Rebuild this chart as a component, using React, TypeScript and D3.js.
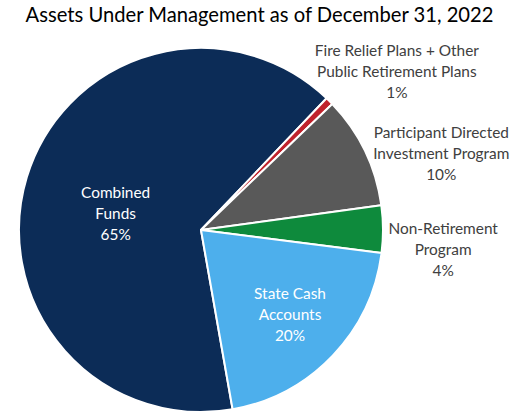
import * as d3 from "d3";

// Share of assets under management, in order round the pie (clockwise)
const categories = [
  "Combined Funds",
  "Fire Relief Plans + Other Public Retirement Plans",
  "Participant Directed Investment Program",
  "Non-Retirement Program",
  "State Cash Accounts",
];
const values = [64.9, 0.7, 10.0, 4.2, 20.2];
const percentLabels = ["65%", "1%", "10%", "4%", "20%"];
const labelLines = [
  ["Combined", "Funds"],
  ["Fire Relief Plans + Other", "Public Retirement Plans"],
  ["Participant Directed", "Investment Program"],
  ["Non-Retirement", "Program"],
  ["State Cash", "Accounts"],
];
const colors = ["#0c2c57", "#c0232c", "#595959", "#0e8a3c", "#4dafec"];
const insideLabel = [true, false, false, false, true];

const W = 520;
const H = 418;
const cx = 201;
const cy = 230;
const radius = 182;

// label placement: radius from the centre and a nudge to the slice's mid angle (degrees)
const labelRadius = [87, 252, 252, 243, 123];
const labelAngleShift = [-5.75, 6.1, 8.3, 5, 0];

export default function App() {
  const pie = d3
    .pie<number>()
    .sort(null)
    .value((d) => d)
    .startAngle((170 * Math.PI) / 180)
    .endAngle((530 * Math.PI) / 180);
  const arcs = pie(values);
  const arc = d3.arc<d3.PieArcDatum<number>>().innerRadius(0).outerRadius(radius);

  const lineH = 21;

  return (
    <svg
      width={W}
      height={H}
      style={{ position: "absolute", left: 0, top: 0, background: "#fff" }}
      fontFamily="Lato, 'Open Sans', sans-serif"
    >
      <text x={259.5} y={22} textAnchor="middle" fontSize={20.2} fill="#000">
        Assets Under Management as of December 31, 2022
      </text>
      <g transform={`translate(${cx},${cy})`}>
        {arcs.map((a, i) => (
          <path
            key={categories[i]}
            d={arc(a) ?? ""}
            fill={colors[i]}
            stroke="#fff"
            strokeWidth={2}
            strokeLinejoin="round"
          />
        ))}
        {arcs.map((a, i) => {
          const mid = (a.startAngle + a.endAngle) / 2 + (labelAngleShift[i] * Math.PI) / 180;
          const x = Math.sin(mid) * labelRadius[i];
          const y = -Math.cos(mid) * labelRadius[i];
          const lines = [...labelLines[i], percentLabels[i]];
          return (
            <text
              key={"l" + i}
              x={x}
              y={y}
              textAnchor="middle"
              fontSize={15.4}
              fill={insideLabel[i] ? "#ffffff" : "#404040"}
            >
              {lines.map((t, j) => (
                <tspan key={j} x={x} y={y + (j - 1) * lineH} dy="0.35em">
                  {t}
                </tspan>
              ))}
            </text>
          );
        })}
      </g>
    </svg>
  );
}
